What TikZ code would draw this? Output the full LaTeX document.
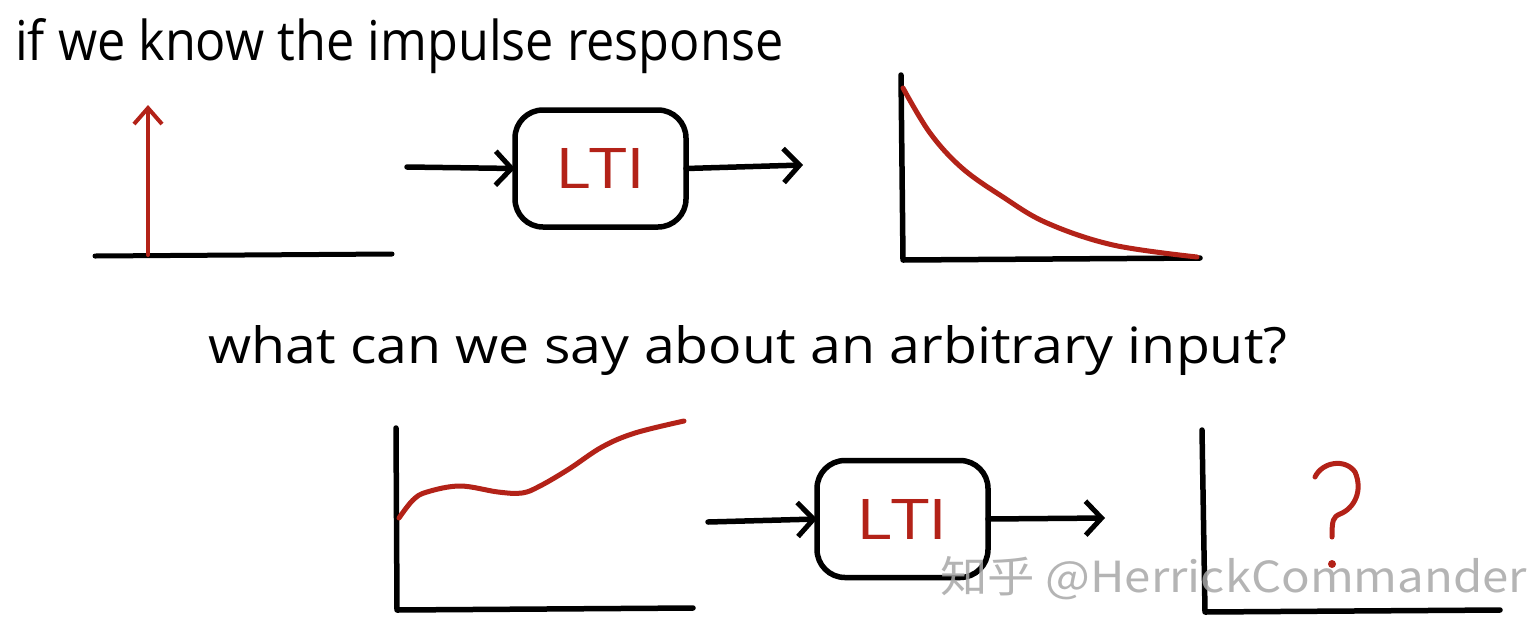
\documentclass[tikz,border=0pt]{standalone}
\usepackage{fontspec}
\usepackage{graphicx}
\setmainfont{Open Sans}
\newfontfamily\cjkfont{Noto Sans CJK SC}
\usetikzlibrary{arrows.meta}
\definecolor{inkred}{HTML}{B32218}
\definecolor{wmgray}{HTML}{A8A8A8}
\begin{document}
\begin{tikzpicture}[x=1pt,y=-1pt, line cap=round, line join=round,
  ink/.style={line width=5.5pt, black},
  redink/.style={line width=5pt, inkred},
  block/.style={draw, line width=5.5pt, rounded corners=28pt, minimum width=171pt, minimum height=117pt, inner sep=0pt, outer sep=0pt},
  flow/.style={line width=5.5pt, -{Straight Barb[length=16pt,width=34pt,line width=5pt]}},
  txt/.style={anchor=base west, inner sep=0pt}
]
\useasboundingbox (0,0) rectangle (1539,638);
\fill[white] (0,0) rectangle (1539,638);

% top line of text
\node[txt] (title) at (15,60) {\resizebox{768pt}{42pt}{if we know the impulse response}};

% impulse
\draw[ink, line width=5pt] (95,256) -- (392,254);
\draw[inkred, line width=4pt, -{Straight Barb[length=16pt,width=28pt,line width=4pt]}] (148,255) -- (148,105);

% first system
\node[block] (lti1) at (600.5,168.5) {\textcolor{inkred}{\resizebox{90pt}{40pt}{LTI}}};
\coordinate (in1) at (407,167);
\coordinate (out1) at (803,165);
\draw[flow] (in1) -- (lti1.west);
\draw[flow] (lti1.east) -- (out1);

% impulse response
\draw[ink] (901,75) -- (903,260) -- (1200,258);
\draw[redink] plot[smooth, tension=0.6] coordinates {(903,88) (930,133) (962,168) (1003,197) (1047,223) (1113,245) (1197,257)};

% second line of text
\node[txt] (question) at (208,363) {\resizebox{1079pt}{38pt}{what can we say about an arbitrary input?}};

% arbitrary input
\draw[ink] (396,428) -- (397,610) -- (693,608);
\draw[redink] plot[smooth, tension=0.6] coordinates {(399,518) (413,500) (427,492) (460,486) (498,492) (522,493) (540,486) (569,469) (602,447) (635,433) (684,421)};

% second system
\node[block] (lti2) at (902.5,519) {\textcolor{inkred}{\resizebox{91pt}{40pt}{LTI}}};
\coordinate (in2) at (708,522);
\coordinate (out2) at (1105,518);
\draw[flow] (in2) -- (lti2.west);
\draw[flow] (lti2.east) -- (out2);

% unknown output
\draw[ink] (1202,430) -- (1205,612) -- (1500,610);
\draw[redink] (1315,477) .. controls (1322,462) and (1345,458) .. (1355,472) .. controls (1363,490) and (1355,508) .. (1340,514) .. controls (1333,517) and (1332,520) .. (1332,537);
\fill[inkred] (1332,564) circle (4pt);

% watermark
\node[txt, text=wmgray, opacity=0.85] (wm) at (940,592) {\resizebox{587pt}{36pt}{\cjkfont 知乎 @HerrickCommander}};
\end{tikzpicture}
\end{document}
